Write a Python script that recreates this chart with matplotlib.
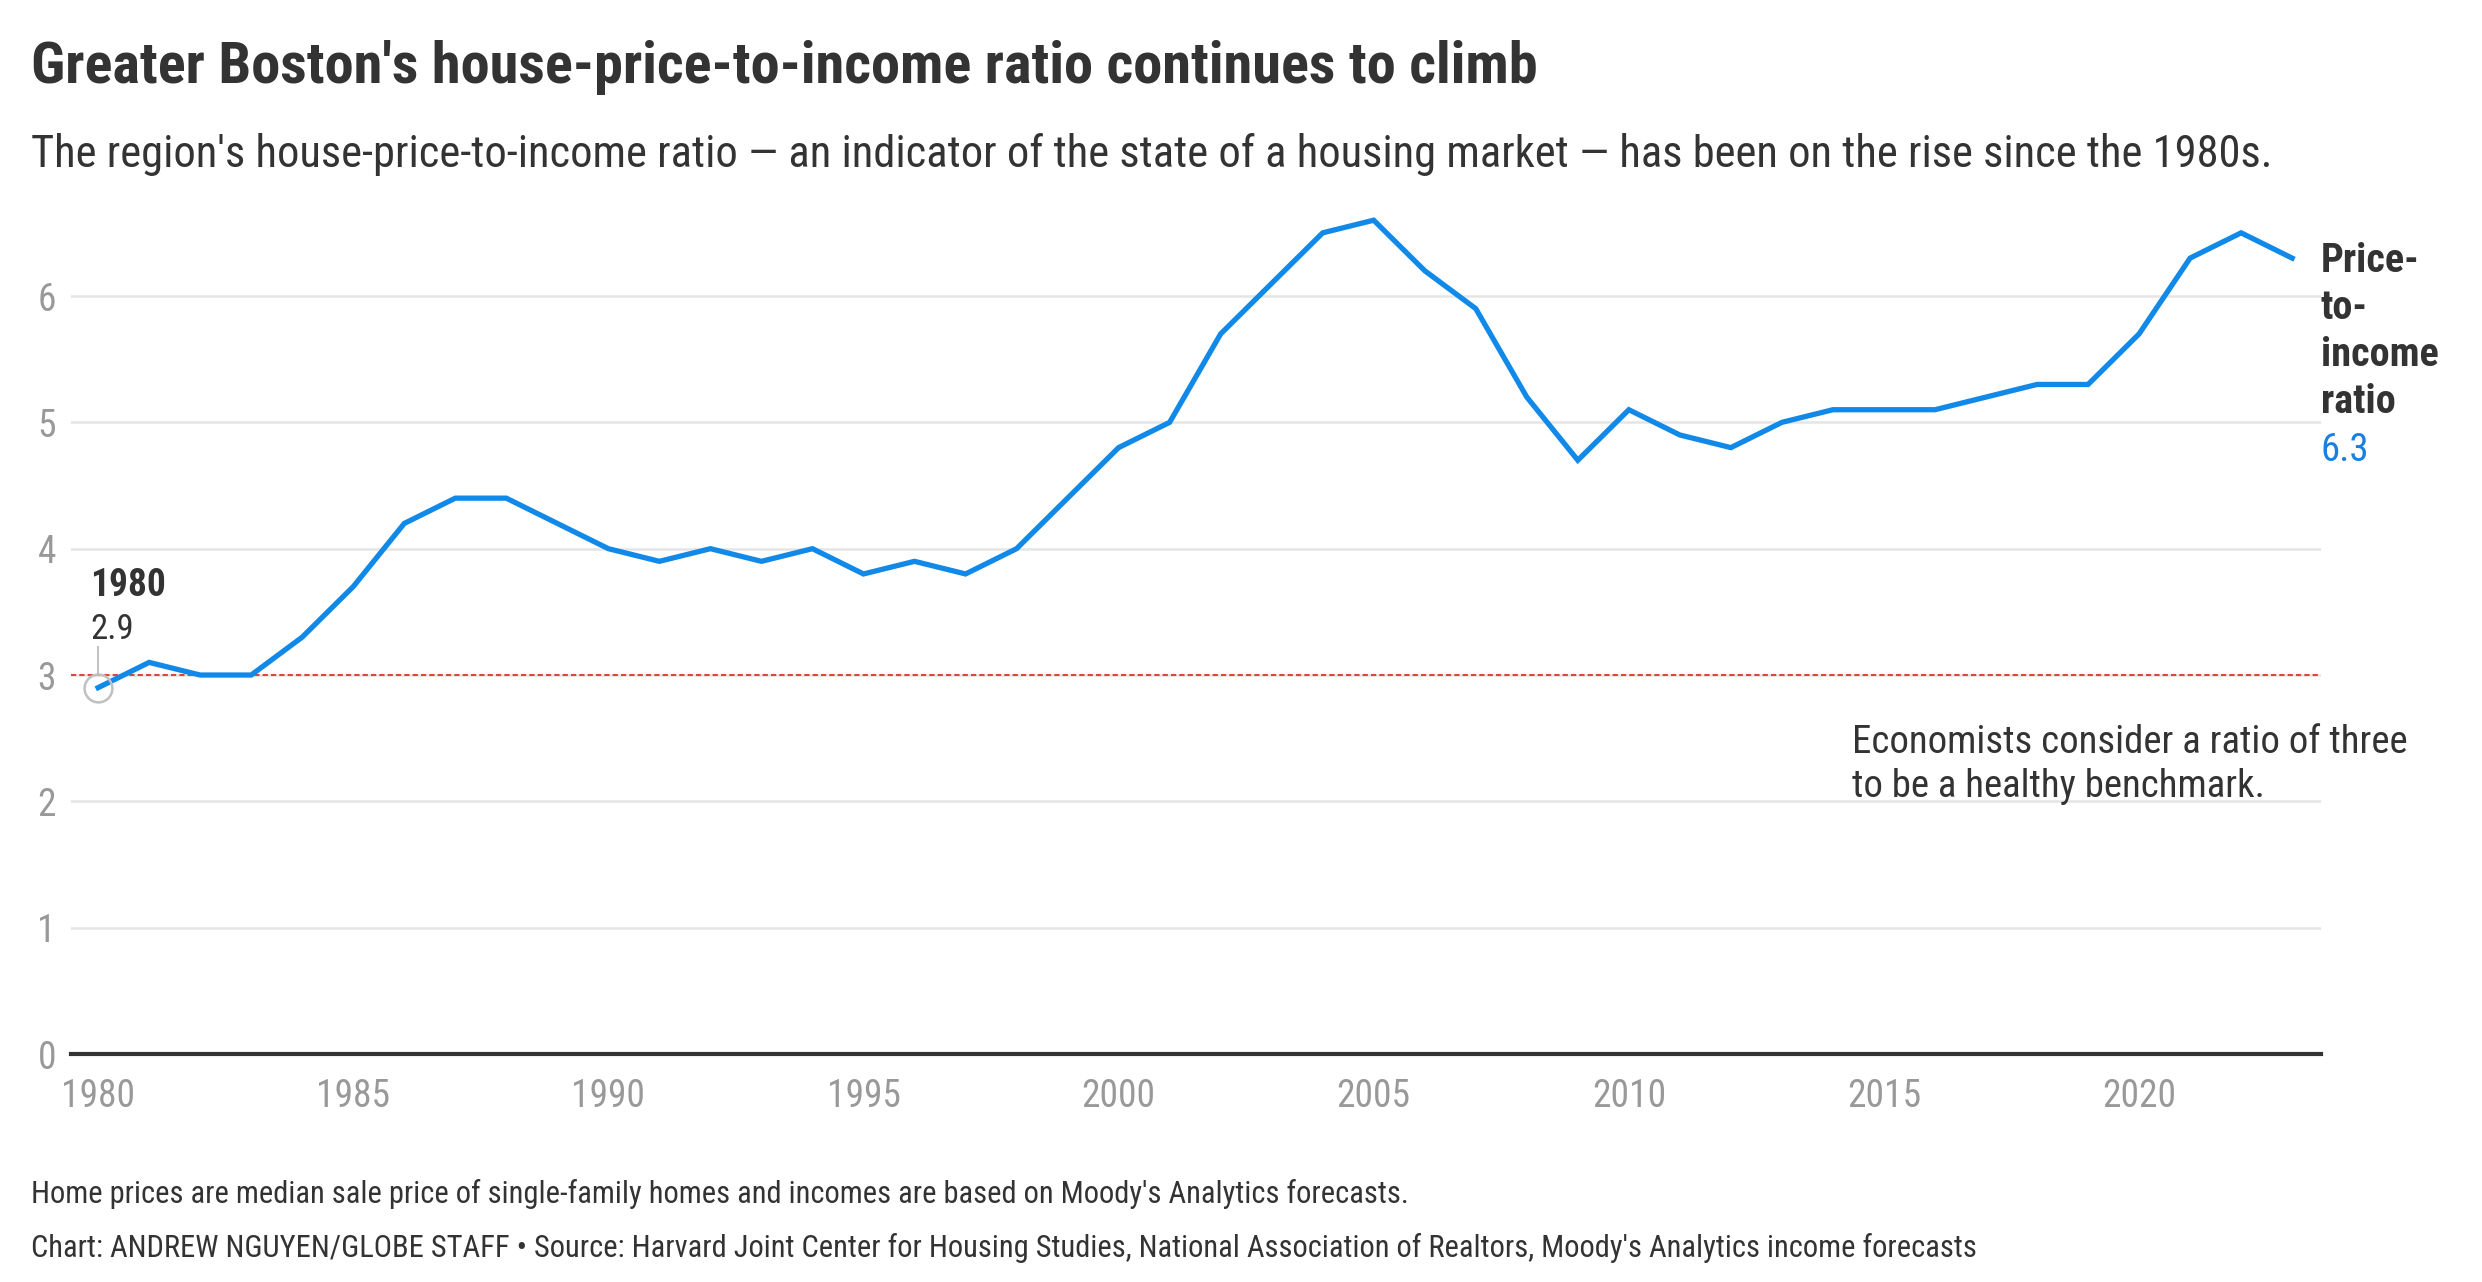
import matplotlib
matplotlib.use("Agg")
import matplotlib.pyplot as plt
from matplotlib import font_manager

# Données
years = list(range(1980, 2024))
ratio = [2.9, 3.1, 3.0, 3.0, 3.3, 3.7, 4.2, 4.4, 4.4, 4.2,
         4.0, 3.9, 4.0, 3.9, 4.0, 3.8, 3.9, 3.8, 4.0, 4.4,
         4.8, 5.0, 5.7, 6.1, 6.5, 6.6, 6.2, 5.9, 5.2, 4.7,
         5.1, 4.9, 4.8, 5.0, 5.1, 5.1, 5.1, 5.2, 5.3, 5.3,
         5.7, 6.3, 6.5, 6.3]
y_ticks = [0, 1, 2, 3, 4, 5, 6]
x_ticks = [1980, 1985, 1990, 1995, 2000, 2005, 2010, 2015, 2020]
benchmark = 3

names = {f.name for f in font_manager.fontManager.ttflist}
FONT = [n for n in ["Roboto Condensed", "Liberation Sans Narrow", "Liberation Sans"] if n in names] + ["DejaVu Sans"]
plt.rcParams["font.family"] = FONT

BLUE = "#1089e8"
DARK = "#333333"
GREY = "#999999"

fig = plt.figure(figsize=(24.82, 12.82), dpi=100)
ax = fig.add_axes([0.0287, 0.1778, 0.9063, 0.680])

ax.plot(years, ratio, color=BLUE, linewidth=3.8, solid_joinstyle="miter", zorder=3)
ax.axhline(benchmark, color="#d9483b", linestyle=(0, (2.5, 1.5)), linewidth=1.5, zorder=2)

ax.set_xlim(1979.473, 2023.559)
ax.set_ylim(0, 6.9)
ax.set_yticks(y_ticks)
ax.set_xticks(x_ticks)
ax.grid(axis="y", color="#e5e5e5", linewidth=1.8)
ax.set_axisbelow(True)
for side in ["top", "right", "left"]:
    ax.spines[side].set_visible(False)
ax.spines["bottom"].set_color("#333333")
ax.spines["bottom"].set_linewidth(3)
ax.tick_params(axis="both", length=0, labelsize=27, labelcolor=GREY)
ax.tick_params(axis="y", pad=11)
ax.tick_params(axis="x", pad=17)

# Point de départ 1980
ax.plot([years[0]], [ratio[0]], marker="o", markersize=20, markerfacecolor="none",
        markeredgecolor="#c0c0c0", markeredgewidth=1.8, zorder=4)
ax.plot([years[0], years[0]], [3.02, 3.22], color="#c0c0c0", linewidth=1.4, zorder=4)
ax.text(1979.84, 3.71, "1980", fontsize=27, fontweight="bold", color=DARK, va="center", ha="left")
ax.text(1979.84, 3.36, f"{ratio[0]}", fontsize=25, color=DARK, va="center", ha="left")

# Étiquette de fin de série
ax.text(2023.559, 6.43, "Price-\nto-\nincome\nratio", fontsize=29, fontweight="bold",
        color=DARK, va="top", ha="left", linespacing=1.30, clip_on=False)
ax.text(2023.559, 4.78, f"{ratio[-1]}", fontsize=28, color="#1a7fe0", va="center", ha="left", clip_on=False)

ax.text(2014.38, 2.29, "Economists consider a ratio of three\nto be a healthy benchmark.",
        fontsize=28, color=DARK, va="center", ha="left", linespacing=1.24)

fig.text(0.0125, 0.9475, "Greater Boston's house-price-to-income ratio continues to climb",
         fontsize=42, fontweight="bold", color=DARK, ha="left", va="center")
fig.text(0.0125, 0.8795, "The region's house-price-to-income ratio \u2014 an indicator of the state of a housing market \u2014 has been on the rise since the 1980s.",
         fontsize=32, color=DARK, ha="left", va="center")
fig.text(0.0125, 0.0685, "Home prices are median sale price of single-family homes and incomes are based on Moody's Analytics forecasts.",
         fontsize=22, color=DARK, ha="left", va="center")
fig.text(0.0125, 0.0265, "Chart: ANDREW NGUYEN/GLOBE STAFF \u2022 Source: Harvard Joint Center for Housing Studies, National Association of Realtors, Moody's Analytics income forecasts",
         fontsize=22, color=DARK, ha="left", va="center")

fig.savefig("out.png", dpi=100)
